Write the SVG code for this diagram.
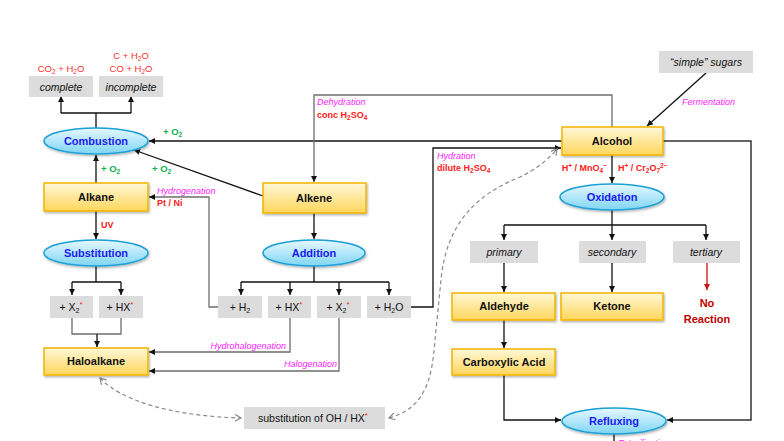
<svg xmlns="http://www.w3.org/2000/svg" width="784" height="441" viewBox="0 0 784 441">
<style>
text{font-family:"Liberation Sans","DejaVu Sans",sans-serif}
.yb{fill:url(#yg);stroke:#f2b400;stroke-width:1.5;filter:url(#sh)}
.el{fill:url(#cg);stroke:#1ea0d6;stroke-width:1.5;filter:url(#sh)}
.gb{fill:#dcdcdc}
.nt{font-size:11px;font-weight:bold;fill:#111;text-anchor:middle}
.et{font-size:11px;font-weight:bold;fill:#1a1af0;text-anchor:middle}
.gt{font-size:10.5px;fill:#111;text-anchor:middle}
.it{font-style:italic}
.mg{font-size:9px;font-style:italic;fill:#ff22ff}
.rd{font-size:9px;font-weight:bold;fill:#ff2020}
.gr{font-size:9.5px;font-weight:bold;fill:#10b050}
.rt{font-size:9.5px;fill:#ff3030;text-anchor:middle}
.k{fill:none;stroke:#111;stroke-width:1.3}
.g{fill:none;stroke:#6e6e6e;stroke-width:1.3}
.d{fill:none;stroke:#8a8a8a;stroke-width:1.2;stroke-dasharray:4 3}
.st{fill:#ff2020}
</style>
<defs>
<linearGradient id="yg" x1="0" y1="0" x2="0" y2="1"><stop offset="0" stop-color="#fff8d8"/><stop offset="1" stop-color="#ffd65c"/></linearGradient>
<linearGradient id="cg" x1="0" y1="0" x2="0" y2="1"><stop offset="0" stop-color="#e6f8ff"/><stop offset="1" stop-color="#7fd6f5"/></linearGradient>
<filter id="sh" x="-20%" y="-30%" width="140%" height="170%"><feDropShadow dx="1" dy="1.5" stdDeviation="1" flood-color="#000" flood-opacity="0.3"/></filter>
<marker id="ak" markerWidth="7" markerHeight="7" refX="6" refY="3.5" orient="auto" markerUnits="userSpaceOnUse"><path d="M0,0.5 L6,3.5 L0,6.5 Z" fill="#111"/></marker>
<marker id="ar" markerWidth="7" markerHeight="7" refX="6" refY="3.5" orient="auto" markerUnits="userSpaceOnUse"><path d="M0,0.5 L6,3.5 L0,6.5 Z" fill="#d01010"/></marker>
<marker id="ad" markerWidth="8" markerHeight="8" refX="6" refY="4" orient="auto" markerUnits="userSpaceOnUse"><path d="M0,0.5 L6,4 L0,7.5" fill="none" stroke="#8a8a8a" stroke-width="1.2"/></marker>
<marker id="ads" markerWidth="8" markerHeight="8" refX="1" refY="4" orient="auto" markerUnits="userSpaceOnUse"><path d="M7,0.5 L1,4 L7,7.5" fill="none" stroke="#8a8a8a" stroke-width="1.2"/></marker>
</defs>
<rect width="784" height="441" fill="#fff"/>

<g id="connectors">
<path class="k" d="M96,128 V113 M61,113 H131 M61,113 V96" marker-end="url(#ak)"/>
<path class="k" d="M131,113 V96" marker-end="url(#ak)"/>
<path class="k" d="M562,141 H149" marker-end="url(#ak)"/>
<path class="k" d="M263,196 L134,150" marker-end="url(#ak)"/>
<path class="k" d="M96,183 V155" marker-end="url(#ak)"/>
<path class="k" d="M96,211 V239" marker-end="url(#ak)"/>
<path class="k" d="M96,266 V282 M72,282 H121 M72,282 V295" marker-end="url(#ak)"/>
<path class="k" d="M121,282 V295" marker-end="url(#ak)"/>
<path class="g" d="M72,318 V334 H121 V318"/>
<path class="k" d="M97,334 V347" marker-end="url(#ak)"/>
<path class="g" d="M218,307 H209 V197 H149" marker-end="url(#ak)"/>
<path class="g" d="M612,127 V95 H314 V182" marker-end="url(#ak)"/>
<path class="k" d="M314,213 V239" marker-end="url(#ak)"/>
<path class="k" d="M314,266 V282 M241,282 H389 M241,282 V295" marker-end="url(#ak)"/>
<path class="k" d="M290,282 V295" marker-end="url(#ak)"/>
<path class="k" d="M339,282 V295" marker-end="url(#ak)"/>
<path class="k" d="M389,282 V295" marker-end="url(#ak)"/>
<path class="g" d="M290,318 V352 H149" marker-end="url(#ak)"/>
<path class="g" d="M339,318 V371 H149" marker-end="url(#ak)"/>
<path class="k" d="M411,307 H433 V148 H561" marker-end="url(#ak)"/>
<path class="k" d="M706,73 L647,126" marker-end="url(#ak)"/>
<path class="k" d="M612,155 V183" marker-end="url(#ak)"/>
<path class="k" d="M612,210 V225 M504,225 H706 M504,225 V240" marker-end="url(#ak)"/>
<path class="k" d="M612,225 V240" marker-end="url(#ak)"/>
<path class="k" d="M706,225 V240" marker-end="url(#ak)"/>
<path class="k" d="M504,263 V292" marker-end="url(#ak)"/>
<path class="k" d="M612,263 V292" marker-end="url(#ak)"/>
<path fill="none" stroke="#d01010" stroke-width="1.3" d="M707,263 V290" marker-end="url(#ar)"/>
<path class="k" d="M504,320 V348" marker-end="url(#ak)"/>
<path class="k" d="M504,375 V420 H561" marker-end="url(#ak)"/>
<path fill="none" stroke="#333" stroke-width="1.5" d="M663,141 H751 V420 H667" marker-end="url(#ak)"/>
<path class="k" d="M614,434 V441"/>
<path class="d" d="M100,378 C120,400 170,416 241,418" marker-start="url(#ads)" marker-end="url(#ad)"/>
<path class="d" d="M389,418 C425,408 432,380 435,340 L441,280 C446,225 475,195 520,177 C535,170 548,160 557,149" marker-start="url(#ads)" marker-end="url(#ad)"/>
</g>

<g id="labels">
<text class="gr" x="163" y="135">+ O<tspan font-size="6.5" dy="2">2</tspan></text>
<text class="gr" x="101" y="172">+ O<tspan font-size="6.5" dy="2">2</tspan></text>
<text class="gr" x="152" y="172">+ O<tspan font-size="6.5" dy="2">2</tspan></text>
<text class="mg" x="157" y="194">Hydrogenation</text>
<text class="rd" x="157" y="206">Pt / Ni</text>
<text class="mg" x="317" y="105">Dehydration</text>
<text class="rd" x="317" y="118">conc H<tspan font-size="6.5" dy="2">2</tspan><tspan dy="-2">SO</tspan><tspan font-size="6.5" dy="2">4</tspan></text>
<text class="rd" x="101" y="228" font-size="9.5">UV</text>
<text class="mg" x="286" y="349" text-anchor="end">Hydrohalogenation</text>
<text class="mg" x="337" y="367" text-anchor="end">Halogenation</text>
<text class="mg" x="682" y="105">Fermentation</text>
<text class="mg" x="437" y="159">Hydration</text>
<text class="rd" x="437" y="171">dilute H<tspan font-size="6.5" dy="2">2</tspan><tspan dy="-2">SO</tspan><tspan font-size="6.5" dy="2">4</tspan></text>
<text class="rd" x="607" y="171" text-anchor="end">H<tspan font-size="6.5" dy="-3">+</tspan><tspan dy="3"> / MnO</tspan><tspan font-size="6.5" dy="2">4</tspan><tspan font-size="6.5" dy="-5">−</tspan></text>
<text class="rd" x="618" y="171">H<tspan font-size="6.5" dy="-3">+</tspan><tspan dy="3"> / Cr</tspan><tspan font-size="6.5" dy="2">2</tspan><tspan dy="-2">O</tspan><tspan font-size="6.5" dy="2">7</tspan><tspan font-size="6.5" dy="-5">2−</tspan></text>
<text class="mg" x="618" y="446">Esterification</text>
</g>

<g id="complete"><rect class="gb" x="29" y="76" width="64" height="21"/><text class="gt it" x="61" y="91">complete</text>
<text class="rt" x="61" y="72">CO<tspan font-size="6.5" dy="2">2</tspan><tspan dy="-2"> + H</tspan><tspan font-size="6.5" dy="2">2</tspan><tspan dy="-2">O</tspan></text></g>
<g id="incomplete"><rect class="gb" x="99" y="76" width="64" height="21"/><text class="gt it" x="131" y="91">incomplete</text>
<text class="rt" x="131" y="59">C + H<tspan font-size="6.5" dy="2">2</tspan><tspan dy="-2">O</tspan></text>
<text class="rt" x="131" y="72">CO + H<tspan font-size="6.5" dy="2">2</tspan><tspan dy="-2">O</tspan></text></g>
<g id="combustion"><ellipse class="el" cx="96" cy="141" rx="52" ry="13"/><text class="et" x="96" y="145">Combustion</text></g>
<g id="alkane"><rect class="yb" x="44" y="183" width="104" height="28"/><text class="nt" x="96" y="201">Alkane</text></g>
<g id="substitution"><ellipse class="el" cx="96" cy="253" rx="52" ry="13"/><text class="et" x="96" y="257">Substitution</text></g>
<g id="x2a"><rect class="gb" x="50" y="296" width="43" height="22"/><text class="gt" x="71" y="311">+ X<tspan font-size="7" dy="2">2</tspan><tspan class="st" font-size="8" dy="-6">*</tspan></text></g>
<g id="hxa"><rect class="gb" x="99" y="296" width="44" height="22"/><text class="gt" x="120" y="311">+ HX<tspan class="st" font-size="8" dy="-4">*</tspan></text></g>
<g id="haloalkane"><rect class="yb" x="44" y="348" width="104" height="27"/><text class="nt" x="96" y="365">Haloalkane</text></g>
<g id="alkene"><rect class="yb" x="263" y="183" width="103" height="30"/><text class="nt" x="314" y="202">Alkene</text></g>
<g id="addition"><ellipse class="el" cx="314" cy="253" rx="51" ry="13"/><text class="et" x="314" y="257">Addition</text></g>
<g id="h2"><rect class="gb" x="218" y="296" width="44" height="22"/><text class="gt" x="240" y="311">+ H<tspan font-size="7" dy="2">2</tspan></text></g>
<g id="hxb"><rect class="gb" x="268" y="296" width="43" height="22"/><text class="gt" x="289" y="311">+ HX<tspan class="st" font-size="8" dy="-4">*</tspan></text></g>
<g id="x2b"><rect class="gb" x="317" y="296" width="44" height="22"/><text class="gt" x="338" y="311">+ X<tspan font-size="7" dy="2">2</tspan><tspan class="st" font-size="8" dy="-6">*</tspan></text></g>
<g id="h2o"><rect class="gb" x="367" y="296" width="44" height="22"/><text class="gt" x="389" y="311">+ H<tspan font-size="7" dy="2">2</tspan><tspan dy="-2">O</tspan></text></g>
<g id="subst-oh"><rect class="gb" x="244" y="407" width="141" height="22"/><text class="gt" x="313" y="422">substitution of OH / HX<tspan class="st" font-size="8" dy="-4">*</tspan></text></g>
<g id="sugars"><rect class="gb" x="659" y="51" width="94" height="22"/><text class="gt it" x="706" y="66">“simple” sugars</text></g>
<g id="alcohol"><rect class="yb" x="562" y="127" width="101" height="28"/><text class="nt" x="612" y="145">Alcohol</text></g>
<g id="oxidation"><ellipse class="el" cx="612" cy="197" rx="52" ry="13"/><text class="et" x="612" y="201">Oxidation</text></g>
<g id="primary"><rect class="gb" x="470" y="241" width="68" height="22"/><text class="gt it" x="504" y="256">primary</text></g>
<g id="secondary"><rect class="gb" x="579" y="241" width="67" height="22"/><text class="gt it" x="612" y="256">secondary</text></g>
<g id="tertiary"><rect class="gb" x="673" y="241" width="67" height="22"/><text class="gt it" x="706" y="256">tertiary</text></g>
<g id="aldehyde"><rect class="yb" x="452" y="293" width="103" height="27"/><text class="nt" x="504" y="310">Aldehyde</text></g>
<g id="ketone"><rect class="yb" x="561" y="293" width="102" height="27"/><text class="nt" x="612" y="310">Ketone</text></g>
<g id="noreaction"><text class="nt" x="707" y="307" style="fill:#c00000">No</text><text class="nt" x="707" y="323" style="fill:#c00000">Reaction</text></g>
<g id="carboxylic"><rect class="yb" x="452" y="349" width="103" height="26"/><text class="nt" x="504" y="366">Carboxylic Acid</text></g>
<g id="refluxing"><ellipse class="el" cx="614" cy="421" rx="52" ry="13"/><text class="et" x="614" y="425">Refluxing</text></g>
</svg>
